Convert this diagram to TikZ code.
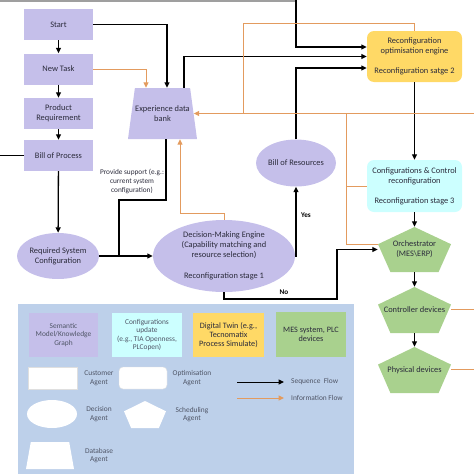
\documentclass[tikz,border=0pt]{standalone}
\usepackage{fontspec}
\setmainfont{Carlito}
\usetikzlibrary{arrows.meta,calc,shapes.geometric}
\definecolor{purp}{HTML}{C5BFEA}
\definecolor{yel}{HTML}{FFD966}
\definecolor{cya}{HTML}{CCFFFF}
\definecolor{grn}{HTML}{A9D18E}
\definecolor{legbg}{HTML}{BDD0EA}
\definecolor{orng}{HTML}{E39B5E}
\definecolor{txt}{HTML}{2B2B3B}
\definecolor{ltxt}{HTML}{4F5566}
\begin{document}
\begin{tikzpicture}[x=1pt,y=-1pt,
  every node/.style={inner sep=0pt, align=center, text=txt, font=\fontsize{8.4}{10}\selectfont},
  proc/.style={fill=purp, minimum width=69pt, minimum height=31pt},
  ell/.style={path picture={\path[#1] let \p1=(path picture bounding box.north east), \p2=(path picture bounding box.south west) in (path picture bounding box.center) ellipse [x radius={0.5*\x1-0.5*\x2}, y radius={0.5*\y1-0.5*\y2}];}},
  pent/.style={path picture={\path[#1] (path picture bounding box.north) -- ($(path picture bounding box.north east)!0.382!(path picture bounding box.south east)$) -- ($(path picture bounding box.south west)!0.83!(path picture bounding box.south east)$) -- ($(path picture bounding box.south west)!0.17!(path picture bounding box.south east)$) -- ($(path picture bounding box.north west)!0.382!(path picture bounding box.south west)$) -- cycle;}},
  trap/.style={path picture={\path[#1] ($(path picture bounding box.north west)!0.1!(path picture bounding box.north east)$) -- ($(path picture bounding box.north west)!0.9!(path picture bounding box.north east)$) -- (path picture bounding box.south east) -- (path picture bounding box.south west) -- cycle;}},
  seq/.style={line width=1.3pt, draw=black, -{Triangle[length=5.5pt,width=5pt]}},
  seqn/.style={line width=1.3pt, draw=black},
  info/.style={line width=1pt, draw=orng, -{Triangle[length=5.5pt,width=5pt]}},
  infon/.style={line width=1pt, draw=orng},
  lbl/.style={text=ltxt, font=\fontsize{7.4}{8.6}\selectfont},
  lbl2/.style={text=txt, font=\fontsize{8.2}{8.7}\selectfont},
  yn/.style={font=\bfseries\fontsize{7.2}{8}\selectfont, text=black},
]
\useasboundingbox (0,0) rectangle (474,474);
\fill[gray!75] (0,0) rectangle (296,2.2);

% legend background
\node[fill=legbg, minimum width=336pt, minimum height=170pt] (legend) at (186,389) {};

% main nodes
\node[proc] (start) at (58.5,24.5) {Start};
\node[proc] (newtask) at (58.5,69) {New Task};
\node[proc] (prodreq) at (58.5,113.5) {Product\\Requirement};
\node[proc] (bop) at (58.5,155.5) {Bill of Process};
\node[ell={fill=purp}, minimum width=82pt, minimum height=46pt] (rsc) at (58,256) {Required System\\Configuration};
\node[trap={fill=purp}, minimum width=69pt, minimum height=51pt] (bank) at (162.5,113.5) {Experience data\\bank};
\node[ell={fill=purp}, minimum width=142pt, minimum height=72pt] (dme) at (224,256) {Decision-Making Engine\\(Capability matching and\\resource selection)\\[11pt]Reconfiguration stage 1};
\node[ell={fill=purp}, minimum width=80pt, minimum height=47pt] (bor) at (296,163) {Bill of Resources};
\node[fill=yel, rounded corners=7pt, minimum width=95pt, minimum height=51pt] (opt) at (414.5,56.5) {Reconfiguration\\optimisation engine\\[10pt]Reconfiguration satge 2};
\node[fill=cya, rounded corners=7pt, minimum width=95pt, minimum height=52pt] (cfg) at (414.5,186) {Configurations \& Control\\reconfiguration\\[10pt]Reconfiguration stage 3};
\node[pent={fill=grn}, minimum width=73pt, minimum height=45pt] (orch) at (414.5,249.5) {Orchestrator\\(MES\textbackslash ERP)};
\node[pent={fill=grn}, minimum width=73pt, minimum height=46pt] (ctrl) at (414.5,310) {Controller devices};
\node[pent={fill=grn}, minimum width=73pt, minimum height=46pt] (phys) at (414.5,370) {Physical devices};

% sequence flow
\draw[seq] (start) -- (newtask);
\draw[seq] (newtask) -- (prodreq);
\draw[seq] (prodreq) -- (bop);
\draw[seq] (bop) -- (rsc);
\coordinate (leftout) at (0,155.5);
\draw[seqn] (bop.west) -- (leftout);
\draw[seq] (start.east) -| ([xshift=4.5pt]bank.north);
\draw[seq] ([xshift=21.5pt]bank.north) |- (opt.west);
\coordinate (topin) at (296,0);
\draw[seq] (topin) |- ([yshift=9.5pt]opt.west);
\draw[seq] (bor.north) |- ([yshift=-11.5pt]opt.west);
\draw[seq] (opt) -- (cfg);
\draw[seq] (cfg) -- (orch);
\draw[seq] (orch) -- (ctrl);
\draw[seq] (ctrl) -- (phys);
\draw[seq] (rsc) -- (dme);
\coordinate (j1) at (119,256);
\coordinate (supp) at (119,200);
\draw[seqn] ([xshift=3.5pt]bank.south) |- (supp) -- (j1);
\node[font=\fontsize{7.3}{9}\selectfont] (supptxt) at (132,181) {Provide support (e.g.:\\current system\\configuration)};
\draw[seq] (dme.east) -| (bor.south);
\node[yn, anchor=west] (yes) at (301,215) {Yes};
\coordinate (nocorner) at (337,299);
\draw[seq] (dme.south) |- (nocorner) |- (orch.west);
\node[yn] (no) at (284,292) {No};

% information flow
\draw[info] (newtask.east) -| ([xshift=-16.5pt]bank.north);
\coordinate (o1) at (180,213);
\draw[info] (dme.north) |- (o1) -- ([xshift=17.5pt]bank.south);
\coordinate (rightO) at (474,113.5);
\draw[info] (rightO) -- ([xshift=-3.5pt]bank.east);
\coordinate (jO1) at (243,113.5);
\coordinate (oTop) at (414.5,23);
\draw[infon] (jO1) |- (oTop) -- (opt.north);
\coordinate (jO2) at (346,113.5);
\draw[infon] (jO2) |- ($(orch.north west)!0.382!(orch.south west)$);
\draw[infon] (cfg.west -| jO2) -- (cfg.west);
\coordinate (rc) at (474,309);
\coordinate (rp) at (474,369);
\draw[infon] (ctrl.east |- rc) -- (rc);
\draw[infon] (phys.east |- rp) -- (rp);

% legend items
\node[fill=purp, minimum width=69pt, minimum height=44pt, lbl] (lsem) at (63.5,335) {Semantic\\Model/Knowledge\\Graph};
\node[fill=cya, minimum width=70pt, minimum height=44pt, lbl] (lcfg) at (147,335) {Configurations\\update\\(e.g., TIA Openness,\\PLCopen)};
\node[fill=yel, minimum width=71pt, minimum height=44pt, lbl2] (ldt) at (228.5,335) {Digital Twin (e.g.,\\Tecnomatix\\Process Simulate)};
\node[fill=grn, minimum width=70pt, minimum height=45pt, lbl2] (lmes) at (311,334.5) {MES system, PLC\\devices};

\node[fill=white, draw=gray!25, line width=0.4pt, minimum width=49pt, minimum height=22pt] (lcust) at (52.5,378) {};
\node[lbl] (lcustt) at (99,378) {Customer\\Agent};
\node[fill=white, draw=gray!25, line width=0.4pt, rounded corners=4pt, minimum width=48pt, minimum height=22pt] (lopt) at (143,378) {};
\node[lbl] (loptt) at (192,378) {Optimisation\\Agent};
\node[ell={fill=white}, minimum width=50pt, minimum height=28pt] (ldec) at (52,414) {};
\node[lbl] (ldect) at (99,414) {Decision\\Agent};
\node[pent={fill=white}, minimum width=42pt, minimum height=27pt] (lsch) at (145,414.5) {};
\node[lbl] (lscht) at (192,414.5) {Scheduling\\Agent};
\node[trap={fill=white}, minimum width=48pt, minimum height=27pt] (ldb) at (50,455.5) {};
\node[lbl] (ldbt) at (99,455.5) {Database\\Agent};

\coordinate (lseqa) at (237,382);
\coordinate (lseqb) at (284,382);
\draw[seq, line width=1pt] (lseqa) -- (lseqb);
\node[lbl, anchor=west] (lseqt) at (291,382) {Sequence~ Flow};
\coordinate (linfa) at (237,398);
\coordinate (linfb) at (284,398);
\draw[info] (linfa) -- (linfb);
\node[lbl, anchor=west] (linft) at (291,398) {Information Flow};
\end{tikzpicture}
\end{document}
